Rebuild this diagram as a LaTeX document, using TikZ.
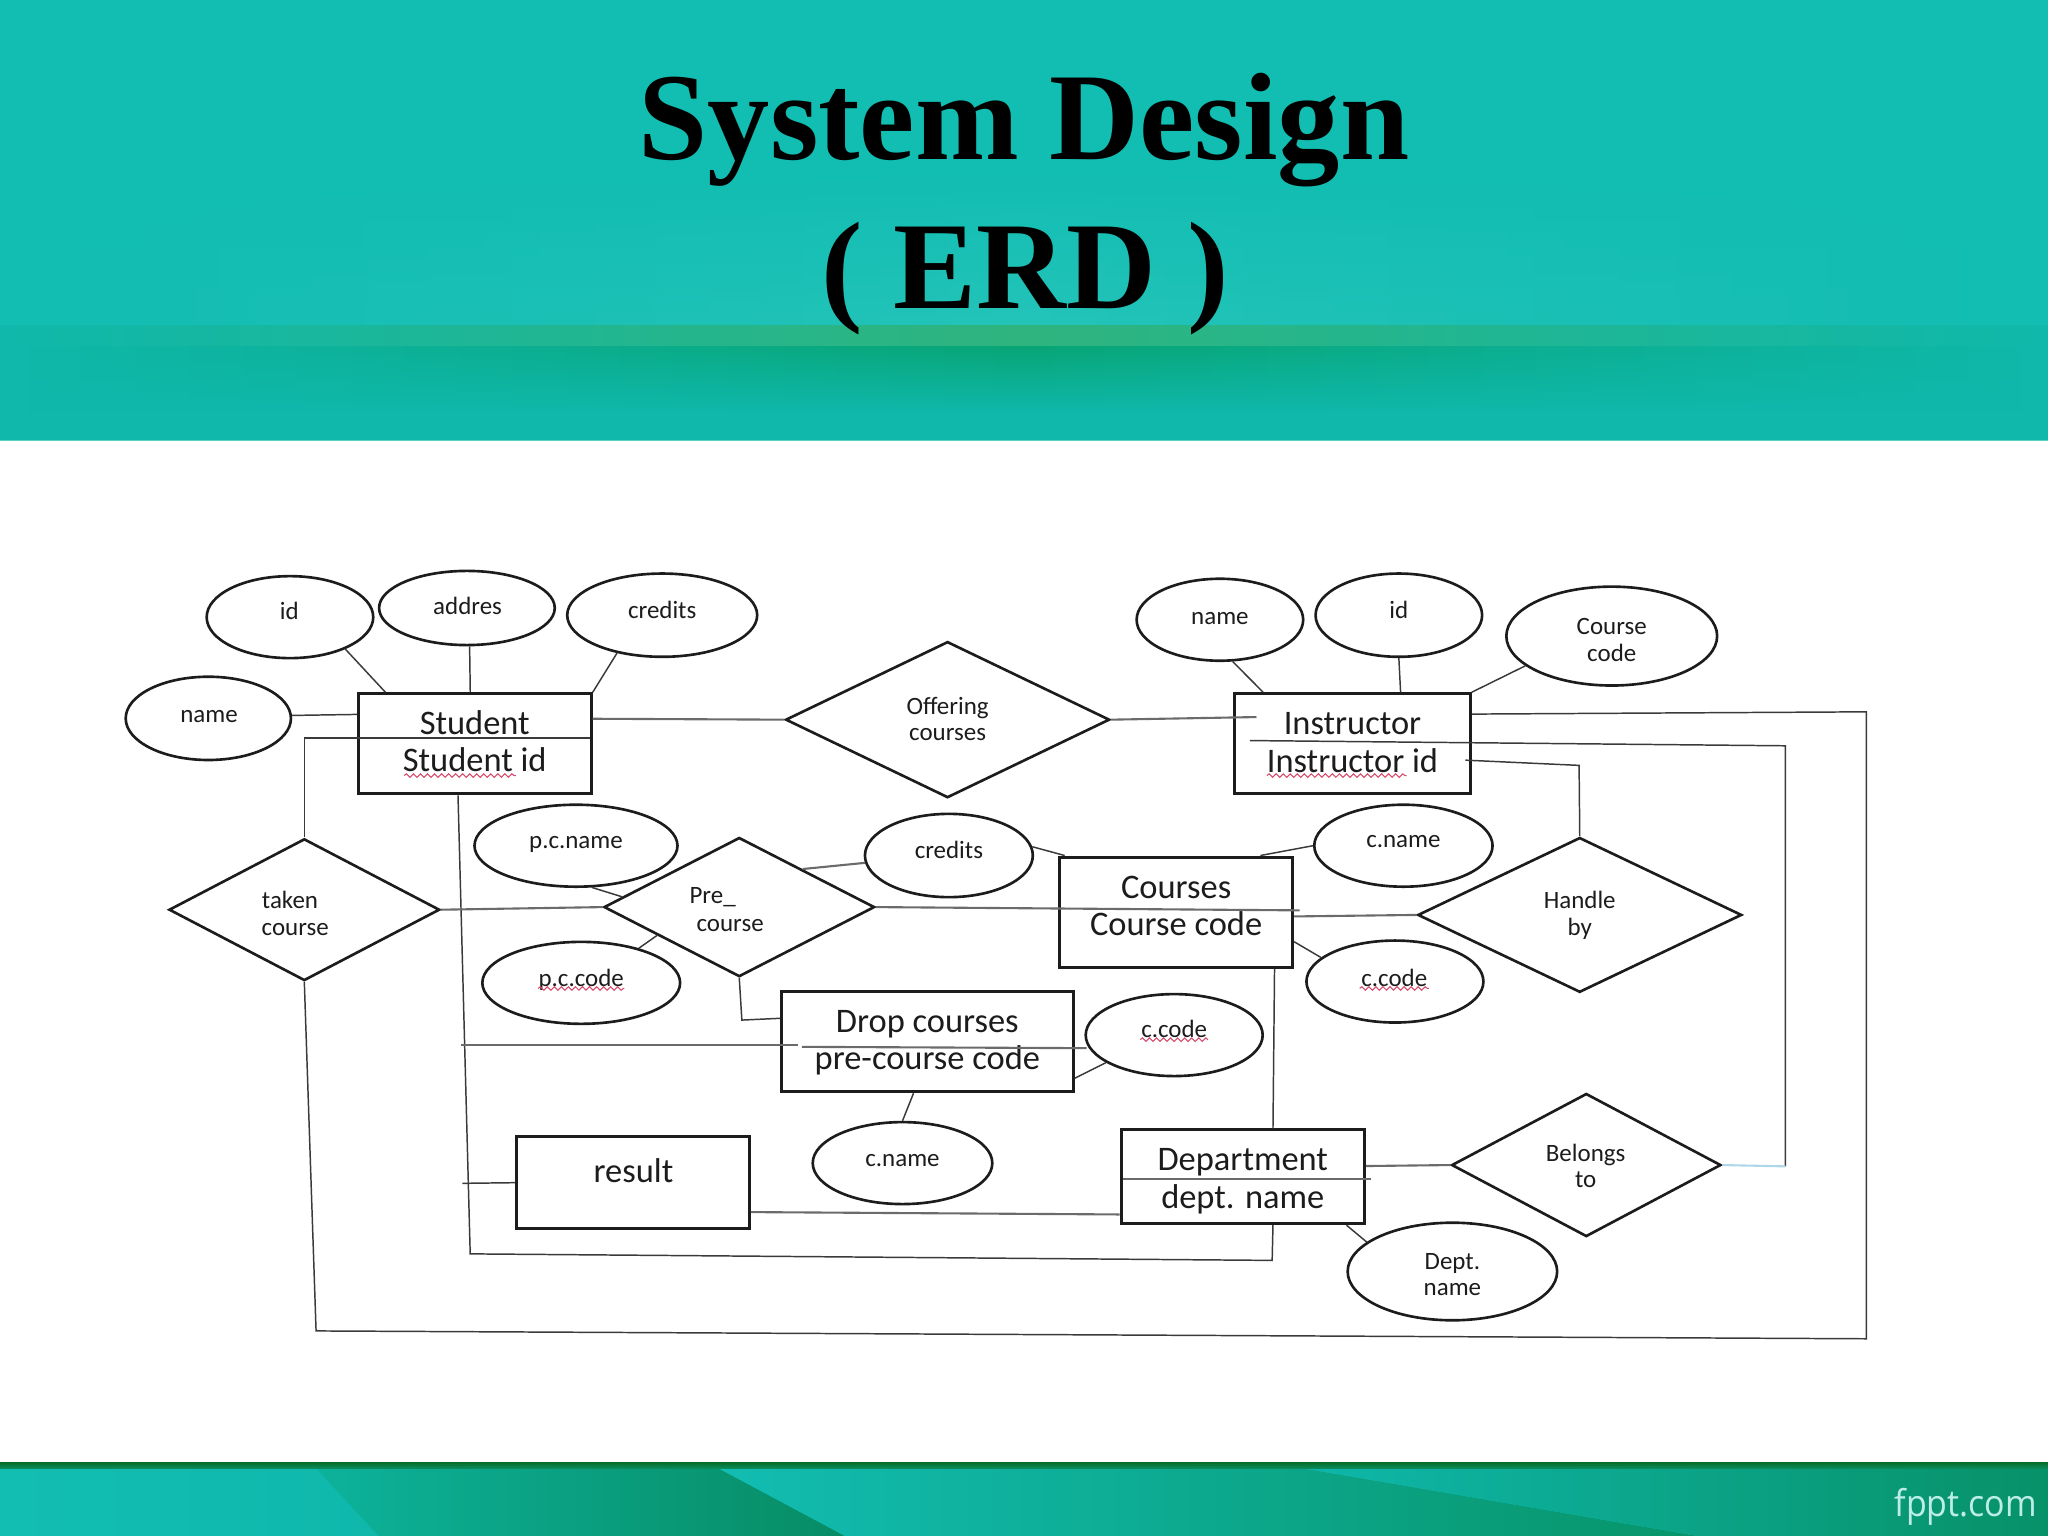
\documentclass[tikz,border=0pt]{standalone}
\usepackage{fontspec}
\setmainfont{Carlito}
\newfontfamily\titlefont{Liberation Serif}
\newfontfamily\markfont{Open Sans}
\usetikzlibrary{shapes.geometric,decorations.pathmorphing,fadings}
\newdimen\uu \uu=0.37024pt
% a line of text at (dx,dy) from the centre of its shape, in picture units; dy is up, to the baseline
\newcommand\at[3]{\smash{\makebox[0pt]{\hspace*{#1\uu}\hspace*{#1\uu}\raisebox{#2\uu}{#3}}}}
\definecolor{teal1}{HTML}{12BDB2}
\definecolor{teal2}{HTML}{0FB8AB}
\definecolor{teal3}{HTML}{24C4B9}
\definecolor{stripgreen}{HTML}{2FB47E}
\definecolor{darkstrip}{HTML}{08A576}
\definecolor{edgegreen}{HTML}{07702F}
\definecolor{edgelow}{HTML}{0A8F5F}
\definecolor{ink}{HTML}{1C1C1C}
\definecolor{wire}{HTML}{3A3A3A}
\definecolor{wave}{HTML}{D8486A}
\tikzset{
  x=0.013061cm,y=-0.013061cm,
  attr/.style 2 args={ellipse,draw=ink,line width=0.75pt,inner sep=0pt,minimum width=#1\uu,minimum height=#2\uu,font=\fontsize{7.1}{8}\selectfont,text=ink},
  rel/.style 2 args={diamond,draw=ink,line width=0.75pt,inner sep=0pt,minimum width=#1\uu,minimum height=#2\uu,font=\fontsize{7.1}{8}\selectfont,text=ink},
  ent/.style 2 args={rectangle,draw=ink,line width=0.85pt,inner sep=0pt,minimum width=#1\uu,minimum height=#2\uu,font=\fontsize{9.8}{11}\selectfont,text=ink},
  wire/.style={draw=wire,line width=0.42pt,line join=miter},
  softwire/.style={draw=wire!75,line width=0.6pt},
  paleblue/.style={draw=black!25!cyan!35!white,line width=0.6pt},
  squiggle/.style={draw=wave,line width=0.3pt,decorate,decoration={snake,amplitude=0.5pt,segment length=2pt}},
  heading/.style={anchor=base,font=\titlefont\bfseries\fontsize{35.4}{40}\selectfont,text=black,inner sep=0pt},
}
\begin{document}
\begin{tikzpicture}
\useasboundingbox (0,0) rectangle (1568,1176);
% header band
\fill[teal1] (0,0) rectangle (1568,249);
\shade[left color=teal1,right color=teal1,middle color=teal3,path fading=north] (0,130) rectangle (1568,249);
\fill[teal2] (0,249) rectangle (1568,338);
\shade[left color=teal2,right color=teal2,middle color=stripgreen] (0,249) rectangle (1568,265);
\shade[left color=teal2,right color=teal2,middle color=darkstrip] (0,265) rectangle (1568,316);
\fill[teal2,path fading=north] (0,265) rectangle (1568,316);
\fill[teal1!70!white] (0,336.5) rectangle (1568,338);
% footer band
\fill[teal1] (0,1122) rectangle (1568,1176);
\shade[left color=teal1,right color=teal2] (0,1122) rectangle (290,1176);
\shade[left color=teal2!70!darkstrip,right color=darkstrip!85!black] (240,1122) -- (546,1122) -- (647,1176) -- (290,1176) -- cycle;
\shade[left color=teal1,right color=darkstrip!90!black] (546,1122) -- (985,1122) -- (1300,1176) -- (647,1176) -- cycle;
\shade[left color=teal2,right color=darkstrip!88!black] (985,1122) -- (1568,1122) -- (1568,1176) -- (1300,1176) -- cycle;
\shade[top color=edgegreen,bottom color=edgelow] (0,1120) rectangle (1568,1124.5);
\node[inner sep=0pt,text=white!72!teal1] (mark) at (1505,1154) {\markfont\fontsize{8.4}{10}\selectfont\scalebox{1.15}[1.25]{fppt.com}};
% title
\node[heading] (title1) at (784,122) {System Design};
\node[heading] (title2) at (785,236) {( ERD )};
% entities
\node[ent={179}{77}] (stu) at (363.5,569.5) {\at{0}{7.5}{Student}\at{0}{-21.5}{Student id}};
\node[ent={181}{77}] (ins) at (1035.5,569.5) {\at{0}{7.5}{Instructor}\at{0}{-22}{Instructor id}};
\node[ent={179}{85}] (crs) at (900.5,698.5) {\at{0}{10.8}{Courses}\at{0}{-18}{Course code}};
\node[ent={224}{77}] (drp) at (710,797.5) {\at{0}{7}{Drop courses}\at{0}{-21.7}{pre-course code}};
\node[ent={179}{71}] (res) at (484.5,905.5) {\at{0.5}{0}{result}};
\node[ent={187}{72}] (dep) at (951.5,901) {\at{0}{5}{Department}\at{0}{-24}{dept. name}};
% attributes
\node[attr={128}{63}] (aid) at (222,472.5) {\at{-0.5}{-2}{id}};
\node[attr={135}{57}] (aad) at (357.5,465.5) {\at{0.5}{-5}{addres}};
\node[attr={146}{64}] (acr) at (507,471) {\at{0}{-2.6}{credits}};
\node[attr={127}{64}] (anm) at (159.5,550) {\at{0.5}{-3.5}{name}};
\node[attr={156}{63}] (apn) at (441,647.5) {\at{0}{-2}{p.c.name}};
\node[attr={129}{64}] (acc) at (726.5,655) {\at{0}{-2.5}{credits}};
\node[attr={152}{63}] (apc) at (445,752.5) {\at{0}{-2.5}{p.c.code}};
\node[attr={128}{63}] (inm) at (934,474.5) {\at{0}{-3.5}{name}};
\node[attr={128}{64}] (iid) at (1071,471) {\at{0}{-2.6}{id}};
\node[attr={162}{76}] (icc) at (1234,487) {\at{0}{1.5}{Course}\at{0}{-19.5}{code}};
\node[attr={137}{63}] (cnm) at (1074.5,647.5) {\at{0}{-1.6}{c.name}};
\node[attr={136}{63}] (ccd) at (1068,751.5) {\at{-0.5}{-3.5}{c.code}};
\node[attr={136}{63}] (dcd) at (899,792.5) {\at{0}{-2.2}{c.code}};
\node[attr={138}{63}] (dnm) at (691,890.5) {\at{0}{-2.5}{c.name}};
\node[attr={161}{75}] (dpn) at (1112,973.5) {\at{0}{1.5}{Dept.}\at{0}{-18.3}{name}};
% relationships
\node[rel={249}{120}] (off) at (725.5,551) {\at{0}{4.3}{Offering}\at{0}{-16}{courses}};
\node[rel={208}{109}] (tak) at (233,696.5) {\at{-11}{0.9}{taken}\at{-7}{-19.5}{course}};
\node[rel={208}{107}] (pre) at (566,694.5) {\at{-20.5}{3}{Pre\_}\at{-7}{-19}{course}};
\node[rel={249}{119}] (han) at (1209.5,700.5) {\at{0}{5}{Handle}\at{0}{-15.5}{by}};
\node[rel={207}{110}] (bel) at (1214.5,892) {\at{-0.5}{3}{Belongs}\at{-0.5}{-17.6}{to}};
% free line ends
\coordinate (insIn) at (962,549);
\coordinate (insDiv) at (957,567);
\coordinate (insIdEnd) at (1122,582);
\coordinate (handCorner) at (1209,586);
\coordinate (stuDivEnd) at (452,565);
\coordinate (stuDivCorner) at (233,565);
\coordinate (outer1) at (242,1019);
\coordinate (outer2) at (1429,1025);
\coordinate (outer3) at (1429,545);
\coordinate (inner1) at (360,960);
\coordinate (inner2) at (974,965);
\coordinate (dropStart) at (353,800);
\coordinate (dropEnd) at (611,800);
\coordinate (dropDivA) at (614,801.5);
\coordinate (dropDivB) at (832,802.5);
\coordinate (preCorner) at (568,781);
\coordinate (resStart) at (354,906);
\coordinate (depDivA) at (860,903);
\coordinate (depDivB) at (1050,903);
\coordinate (belCorner) at (1367,893);
\coordinate (belUp) at (1367,571);
\coordinate (crsDivEnd) at (995,697);
% connectors around Student
\draw[wire] (aid.-30) -- (stu.150);
\draw[wire] (aad.-86) -- (stu.95);
\draw[wire] (acr.220) -- (stu.north east);
\draw[wire] (anm.2) -- (stu.166.5);
\draw[softwire] (stu.12.3) -- (off.west);
\draw[softwire] (off.east) -- (insIn);
\draw[wire] (tak.north) -- (stuDivCorner) -- (stuDivEnd);
\draw[wire] (tak.south) -- (outer1) -- (outer2) -- (outer3) -- (ins.14.6);
\draw[wire] (stu.-108) -- (inner1) -- (inner2) -- (dep.-58);
\draw[wire] (dep.58) -- (crs.-30);
% connectors around Instructor
\draw[wire] (inm.-73) -- (ins.150);
\draw[wire] (iid.south) -- (ins.47.3);
\draw[wire] (icc.-161) -- (ins.north east);
\draw[wire] (insIdEnd) -- (handCorner) -- (han.north);
\draw[wire] (insDiv) -- (belUp) -- (belCorner);
\draw[paleblue] (belCorner) -- (bel.east);
% connectors around Courses and Pre_course
\draw[softwire] (tak.east) -- (pre.west);
\draw[softwire] (pre.east) -- (crsDivEnd);
\draw[softwire] (crs.-2.2) -- (han.west);
\draw[wire] (acc.6) -- (crs.153);
\draw[softwire] (acc.185.7) -- (pre.31.3);
\draw[wire] (cnm.180) -- (crs.34.2);
\draw[wire] (crs.-14.5) -- (ccd.162.6);
\draw[wire] (apn.-69) -- (pre.175);
\draw[wire] (apc.31.8) -- (pre.199);
\draw[wire] (pre.south) -- (preCorner) -- (drp.171.6);
% connectors around Drop courses, result, Department
\draw[softwire] (dropStart) -- (dropEnd);
\draw[softwire] (dropDivA) -- (dropDivB);
\draw[wire] (drp.-14) -- (dcd.202.5);
\draw[wire] (drp.-105.6) -- (dnm.north);
\draw[wire] (resStart) -- (res.west);
\draw[softwire] (res.-14.7) -- (dep.-163.3);
\draw[softwire] (depDivA) -- (depDivB);
\draw[softwire] (dep.5.5) -- (bel.west);
\draw[wire] (dep.-25) -- (dpn.161.3);
% spelling squiggles
\draw[squiggle] (309.5,593.8) -- (395,593.8);
\draw[squiggle] (970,593.8) -- (1077,593.8);
\draw[squiggle] (412,756.8) -- (478,756.8);
\draw[squiggle] (1041,756.8) -- (1094,756.8);
\draw[squiggle] (873,796) -- (925,796);
\end{tikzpicture}
\end{document}
